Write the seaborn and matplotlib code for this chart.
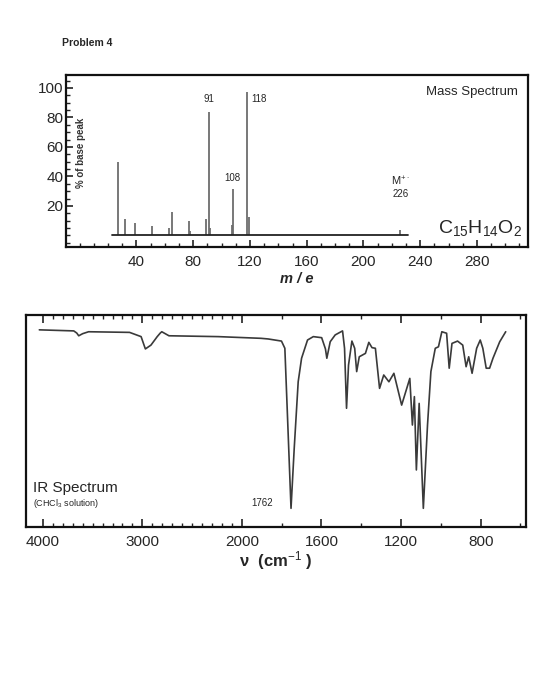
import numpy as np
import pandas as pd
import matplotlib
matplotlib.use("Agg")
import matplotlib.pyplot as plt
from matplotlib.ticker import FixedLocator, MultipleLocator
import seaborn as sns

# ---------------- data ----------------
# Mass spectrum peaks (m/e, % of base peak)
ms_mz = [27, 32, 39, 51, 63, 65, 77, 78, 89, 91, 92, 107, 108, 118, 119, 226]
ms_int = [50, 11, 8.5, 6.5, 5, 16, 9.5, 3, 11, 83.5, 5, 7, 31.5, 97.5, 12.5, 3.5]
ms_tick_labels = [40, 80, 120, 160, 200, 240, 280]
ms_ytick_labels = [20, 40, 60, 80, 100]
ms_labels = [("91", 91, 92.5), ("118", 121, 92.5), ("108", 107.5, 39)]

# IR spectrum (wavenumber cm-1, transmittance %)
ir_wn = [4036, 3690, 3660, 3640, 3600, 3541, 3129, 3013, 2985, 2970, 2914, 2851,
         2820, 2805, 2733, 2238,
         1904, 1868, 1801, 1784, 1771, 1753, 1737, 1717, 1700, 1670, 1641, 1599,
         1580, 1573, 1556, 1531, 1494, 1484, 1474, 1464, 1447, 1433, 1423, 1410, 1379,
         1362, 1346, 1329, 1308, 1287, 1261, 1236, 1197, 1156, 1143, 1133, 1123,
         1109, 1088, 1067, 1050, 1028, 1012, 995, 971, 958, 944, 916, 890, 873,
         860, 843, 820, 802, 789, 772, 755, 738, 704, 674]
ir_t = [93, 92.5, 91.5, 90.2, 91.2, 92.1, 91.8, 89.8, 86, 84, 85.8, 89.8,
        91.5, 92.1, 90.2, 89.8,
        89, 88.7, 87.7, 84.3, 52.8, 8.8, 37, 68.5, 79.6, 88.2, 89.8, 89.3,
        84, 79.6, 87.4, 90.6, 92.5, 84.3, 56, 76.4, 87.7, 84.3, 73.3, 80.3, 81.9,
        87.1, 84.6, 84.3, 65.4, 71.7, 68.5, 72.5, 57.5, 70.1, 48.1, 61.5, 26.9,
        58.3, 8.8, 48.1, 73.3, 84.3, 85, 92.1, 91.4, 74.9, 86.6, 87.7, 85.8, 75.6,
        80.3, 72.5, 84.3, 88.2, 84.3, 74.9, 74.9, 79.6, 87.4, 92.1]
ir_major = [4000, 3000, 2000, 1600, 1200, 800]

sns.set_theme(style="ticks")
plt.rcParams["font.family"] = ["Liberation Sans", "DejaVu Sans"]
plt.rcParams["mathtext.fontset"] = "custom"
plt.rcParams["mathtext.rm"] = "Liberation Sans"
plt.rcParams["mathtext.it"] = "Liberation Sans:italic"
plt.rcParams["mathtext.bf"] = "Liberation Sans:bold"

fig = plt.figure(figsize=(5.54, 7.0), dpi=100)
fig.patch.set_facecolor("white")
fig.text(62 / 554, 1 - 43 / 700, "Problem 4", fontsize=7.5, fontweight="bold",
         va="center", ha="left")

# ---------------- Mass spectrum ----------------
ax1 = fig.add_axes([66 / 554, 1 - 247 / 700, 462 / 554, 172 / 700])
ms_df = pd.DataFrame({"mz": ms_mz, "intensity": ms_int})
ax1.vlines(ms_df["mz"], 0, ms_df["intensity"], color="#6d6d6d", linewidth=1.3)
sns.lineplot(x=[22.5, 231.5], y=[0, 0], ax=ax1, color="#222222", linewidth=1.3)
ax1.set_xlim(-9.7, 316)
ax1.set_ylim(-7.8, 108.8)
ax1.xaxis.set_major_locator(FixedLocator(ms_tick_labels))
ax1.xaxis.set_minor_locator(MultipleLocator(10))
ax1.yaxis.set_major_locator(FixedLocator(ms_ytick_labels))
ax1.yaxis.set_minor_locator(MultipleLocator(5))
ax1.tick_params(axis="both", which="both", direction="in", top=False, right=False,
                color="#222222")
ax1.tick_params(axis="both", which="major", length=5, width=1.2, labelsize=11)
ax1.tick_params(axis="both", which="minor", length=3, width=1.0)
ax1.tick_params(axis="y", which="major", pad=2)
ax1.tick_params(axis="x", which="major", pad=6)
for s in ax1.spines.values():
    s.set_linewidth(1.6)
    s.set_color("#111111")
ax1.set_xlabel("m / e", fontsize=10.5, fontstyle="italic", fontweight="bold",
               labelpad=2)
ax1.set_ylabel("")
ax1.text(0.032, 0.545, "% of base peak", rotation=90, fontsize=7,
         fontweight="bold", color="#333333",
         transform=ax1.transAxes, ha="center", va="center")
for lab, xx, yy in ms_labels:
    ax1.text(xx, yy, lab, fontsize=7, ha="center" if lab != "118" else "left",
             va="center")
ax1.text(226, 36.5, "M$^{+\\cdot}$", fontsize=8, ha="center", va="center")
ax1.text(226, 28, "226", fontsize=7, ha="center", va="center")
ax1.text(0.978, 0.90, "Mass Spectrum", fontsize=9.5, ha="right", va="center",
         transform=ax1.transAxes)
ax1.text(0.896, 0.11, "C$_{15}$H$_{14}$O$_2$", fontsize=14, ha="center",
         va="center", transform=ax1.transAxes)

# ---------------- IR spectrum ----------------
def fwd(v):
    v = np.asarray(v, dtype=float)
    return np.where(v >= 2000, 2000 + (v - 2000) / 2.0, v)


def inv(u):
    u = np.asarray(u, dtype=float)
    return np.where(u >= 2000, 2000 + (u - 2000) * 2.0, u)


ax2 = fig.add_axes([26 / 554, 1 - 527 / 700, 500 / 554, 212 / 700])
ax2.set_xscale("function", functions=(fwd, inv))
ir_df = pd.DataFrame({"wn": ir_wn, "T": ir_t})
sns.lineplot(data=ir_df, x="wn", y="T", ax=ax2, color="#3a3a3a", linewidth=1.2,
             sort=False)
ax2.set_xlim(4170, 572)
ax2.set_ylim(0, 100)
ax2.xaxis.set_major_locator(FixedLocator(ir_major))
ax2.xaxis.set_minor_locator(FixedLocator(list(range(3900, 2000, -100)) +
                                         [1800, 1400, 1000, 600]))
ax2.set_yticks([])
ax2.tick_params(axis="x", which="both", direction="in", top=True, color="#222222")
ax2.tick_params(axis="x", which="major", length=6, width=1.2, labelsize=11, pad=6)
ax2.tick_params(axis="x", which="minor", length=3, width=1.0)
for s in ax2.spines.values():
    s.set_linewidth(1.6)
    s.set_color("#111111")
ax2.set_xlabel(r"$\mathbf{\nu}$  (cm$^{-1}$ )", fontsize=12, fontweight="bold",
               labelpad=0)
ax2.set_ylabel("")
ax2.text(0.014, 0.184, "IR Spectrum", fontsize=11, ha="left", va="center",
         transform=ax2.transAxes)
ax2.text(0.014, 0.113, "(CHCl$_3$ solution)", fontsize=6.5, ha="left",
         va="center", transform=ax2.transAxes)
ax2.text(0.472, 0.113, "1762", fontsize=7, ha="center", va="center",
         transform=ax2.transAxes)

fig.savefig("out.png", dpi=100, facecolor="white")
